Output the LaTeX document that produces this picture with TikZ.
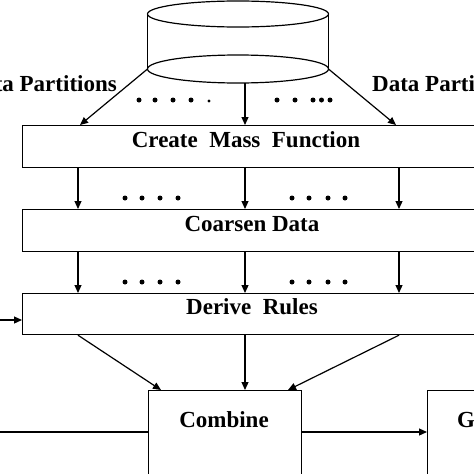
\documentclass[tikz,border=0pt]{standalone}
\usepackage{fontspec}
\setmainfont{Liberation Serif}
\usetikzlibrary{positioning,calc,arrows.meta}

\tikzset{
    procbox/.style={draw, line width=1.2pt, anchor=north west, inner sep=0pt},
    lbl/.style={font=\fontsize{23}{27}\selectfont\bfseries, inner sep=0pt},
    arr/.style={line width=1.2pt, -{Triangle[length=8pt,width=7pt]}},
    plain/.style={line width=1.2pt},
}

\begin{document}
\begin{tikzpicture}[x=1pt,y=-1pt]
    \useasboundingbox (0,0) rectangle (474,474);
    \clip (0,0) rectangle (474,474);

    % Database
    \draw [plain] (238,14) ellipse [x radius=90.5, y radius=13];
    \draw [plain] (238,69) ellipse [x radius=90.5, y radius=14];
    \draw [plain] (147.5,14) -- (147.5,69);
    \draw [plain] (328.5,14) -- (328.5,69);
    \coordinate (dbL) at (147.5,69);
    \coordinate (dbR) at (328.5,69);
    \coordinate (dbB) at (245,83);

    % Labels
    \node [lbl, anchor=base east] (partL) at (117,91) {Data Partitions};
    \node [lbl, anchor=base west] (partR) at (372,91) {Data Partitions};

    % Boxes
    \node [procbox, minimum width=480pt, minimum height=42pt] (mass) at (22,125) {};
    \node [procbox, minimum width=480pt, minimum height=42pt] (coarse) at (22,209) {};
    \node [procbox, minimum width=480pt, minimum height=41pt] (rules) at (22,293) {};
    \node [procbox, minimum width=153pt, minimum height=100pt] (comb) at (148,390) {};
    \node [procbox, minimum width=100pt, minimum height=100pt] (gen) at (427,390) {};

    \node [lbl] (masst) at (246,140) {Create\ \ Mass\ \ Function};
    \node [lbl] (coarset) at (252,224) {Coarsen Data};
    \node [lbl] (rulest) at (252,307) {Derive\ \ Rules};
    \node [lbl] (combt) at (224,420) {Combine};
    \node [lbl, anchor=west] (gent) at (457,420) {G};

    % Columns
    \coordinate (cL) at (78,0);
    \coordinate (cM) at (245,0);
    \coordinate (cR) at (399,0);

    % Cylinder to mass function
    \draw [arr] (dbL) -- (mass.north -| 80,0);
    \draw [arr] (dbB) -- (mass.north -| cM);
    \draw [arr] (dbR) -- (mass.north -| 396,0);

    % Box to box
    \foreach \c in {cL, cM, cR} {
        \draw [arr] (mass.south -| \c) -- (coarse.north -| \c);
        \draw [arr] (coarse.south -| \c) -- (rules.north -| \c);
    }

    % Rules to combine
    \draw [arr] (rules.south -| cL) -- (comb.north -| 161,0);
    \draw [arr] (rules.south -| cM) -- (comb.north -| cM);
    \draw [arr] (rules.south -| cR) -- (comb.north -| 288,0);

    % Side lines
    \coordinate (inA) at (0,320);
    \coordinate (inB) at (0,432);
    \draw [arr] (inA) -- (rules.west |- inA);
    \draw [plain] (inB) -- (comb.west |- inB);
    \draw [arr] (comb.east |- inB) -- (gen.west |- inB);

    % Dots
    \foreach \x in {139, 155, 173, 191} \fill (\x,100) circle (2.5);
    \fill (209,101) circle (1.6);
    \foreach \x in {277, 295, 313, 321.5, 330} \fill (\x,100) circle (2.5);
    \foreach \y in {198, 282} {
        \foreach \x in {125, 142, 160, 178, 292, 309, 328, 345} \fill (\x,\y) circle (2.5);
    }
\end{tikzpicture}
\end{document}
